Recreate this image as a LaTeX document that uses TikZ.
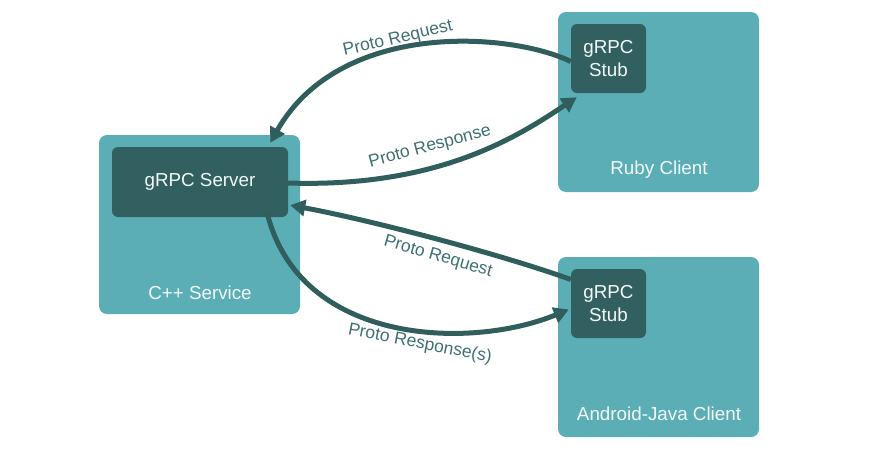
\documentclass[tikz,border=0pt]{standalone}
\usepackage{fontspec}
\setmainfont{Liberation Sans}
\usetikzlibrary{arrows.meta,calc}
\definecolor{outerc}{HTML}{5BAEB5}
\definecolor{innerc}{HTML}{325F5F}
\definecolor{linec}{HTML}{2F5E5D}
\definecolor{labc}{HTML}{3E7073}
\definecolor{boxtxt}{HTML}{F2F8F8}
\tikzset{
  outerbox/.style={fill=outerc, rounded corners=8pt, inner sep=0pt},
  innerbox/.style={fill=innerc, rounded corners=6pt, inner sep=0pt, text=boxtxt, font=\fontsize{18.8}{23}\selectfont, align=center},
  boxlabel/.style={text=boxtxt, font=\fontsize{18.8}{23}\selectfont},
  flow/.style={draw=linec, line width=5pt, -{Triangle[length=15pt,width=16pt]}},
  flowlab/.style={text=labc, font=\fontsize{17.5}{21}\selectfont, inner sep=0pt},
}
\begin{document}
\begin{tikzpicture}[x=1pt,y=-1pt]
\useasboundingbox (0,0) rectangle (881,450);
% C++ service
\node[outerbox, minimum width=201pt, minimum height=179pt] (cpp) at (199.5,224.5) {};
\node[innerbox, minimum width=176pt, minimum height=70pt] (server) at (200,182) {gRPC Server};
\node[boxlabel] (cpplab) at (200,293) {C++ Service};
% Ruby client
\node[outerbox, minimum width=201pt, minimum height=180pt] (ruby) at (658.5,102) {};
\node[innerbox, minimum width=75pt, minimum height=69pt] (rstub) at (608.5,58.5) {gRPC\\Stub};
\node[boxlabel] (rubylab) at (659,170) {Ruby Client};
% Android client
\node[outerbox, minimum width=201pt, minimum height=180pt] (andr) at (658.5,347) {};
\node[innerbox, minimum width=75pt, minimum height=69pt] (astub) at (608.5,303.5) {gRPC\\Stub};
\node[boxlabel] (andrlab) at (659,414) {Android-Java Client};
% connectors
\coordinate (t1) at ([xshift=-18pt,yshift=4pt]server.north east);
\draw[flow] ([yshift=-3pt]rstub.west) .. controls (510,32) and (340,20) .. (t1);
\coordinate (t2) at ([xshift=6pt,yshift=-4pt]rstub.south west);
\draw[flow] ([yshift=-1pt]server.east) .. controls (440,188) and (520,135) .. (t2);
\coordinate (t3) at ([xshift=2pt,yshift=12pt]server.south east);
\draw[flow] ([yshift=24pt]astub.west) .. controls (500,254) and (370,220) .. (t3);
\coordinate (s4) at ([xshift=-21pt,yshift=4pt]server.south east);
\draw[flow] (s4) .. controls (300,345) and (470,350) .. ([xshift=-2pt,yshift=-6pt]astub.west);
% labels
\node[flowlab, rotate=13] (l1) at (398,39) {Proto Request};
\node[flowlab, rotate=15] (l2) at (430,147) {Proto Response};
\node[flowlab, rotate=-16] (l3) at (438,257) {Proto Request};
\node[flowlab, rotate=-11] (l4) at (420,344) {Proto Response(s)};
\end{tikzpicture}
\end{document}
